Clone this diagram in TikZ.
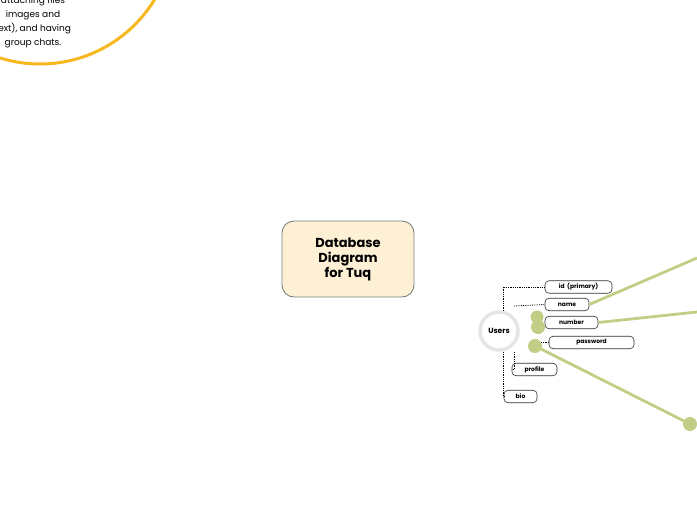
\documentclass[tikz,border=0pt]{standalone}
\usepackage{fontspec}
\setmainfont{Poppins}
\begin{document}
\begin{tikzpicture}[x=1pt,y=-1pt,
  attr/.style={draw=black!80,rounded corners=4pt,fill=white,font=\fontsize{6}{7}\selectfont\bfseries,inner sep=0pt,minimum height=12.5pt,line width=0.6pt},
  dot/.style={densely dotted,line width=0.8pt},
  grn/.style={line width=2.8pt,color={rgb,255:red,192;green,206;blue,134}}]
\useasboundingbox (0,0) rectangle (697,520);
\begin{scope}
\clip (0,0) rectangle (697,520);
\draw[line width=3pt,color={rgb,255:red,247;green,183;blue,30}] (40,-70) circle (134);
\node[font=\fontsize{9}{14}\selectfont,align=center,inner sep=0pt] (txt) at (33,22) {attaching files\\images and\\text), and having\\group chats.};
\end{scope}
\node[draw=black!50,fill={rgb,255:red,253;green,240;blue,213},rounded corners=12pt,minimum width=132pt,minimum height=76pt,line width=0.9pt,font=\fontsize{13}{15}\selectfont\bfseries,align=center] (main) at (348,259) {Database\\Diagram\\for Tuq};
\node[circle,draw=black!10,line width=3.5pt,minimum size=38pt,font=\fontsize{7.5}{8}\selectfont\bfseries] (users) at (499,331) {Users};
\node[attr,minimum width=67pt] (id) at (578.5,287) {id\ \ (primary)};
\node[attr,minimum width=44pt] (name) at (567,304.5) {name};
\node[attr,minimum width=53pt] (number) at (571.5,322.5) {number};
\node[attr,minimum width=85pt] (pw) at (591.5,342.5) {password};
\node[attr,minimum width=45pt] (profile) at (534.5,369.5) {profile};
\node[attr,minimum width=33pt] (bio) at (520.5,396.5) {bio};
\coordinate (g1) at (697,258);
\coordinate (g2) at (697,312);
\coordinate (g3) at (690,424);
\draw[grn] (name.east) -- (g1);
\draw[grn] (number.east) -- (g2);
\draw[grn] (535,346) -- (g3);
\fill[color={rgb,255:red,192;green,206;blue,134}] (537,317) circle (6.5) (538,327) circle (7) (535,346) circle (7) (g3) circle (7);
\draw[dot] (503,311) |- (id.west);
\draw[dot] (514,306) -- (name.west);
\draw[dot] (541,342.5) -- (pw.west);
\draw[dot] (514,352) |- (profile.west);
\draw[dot] (503,352) |- (bio.west);
\end{tikzpicture}
\end{document}
